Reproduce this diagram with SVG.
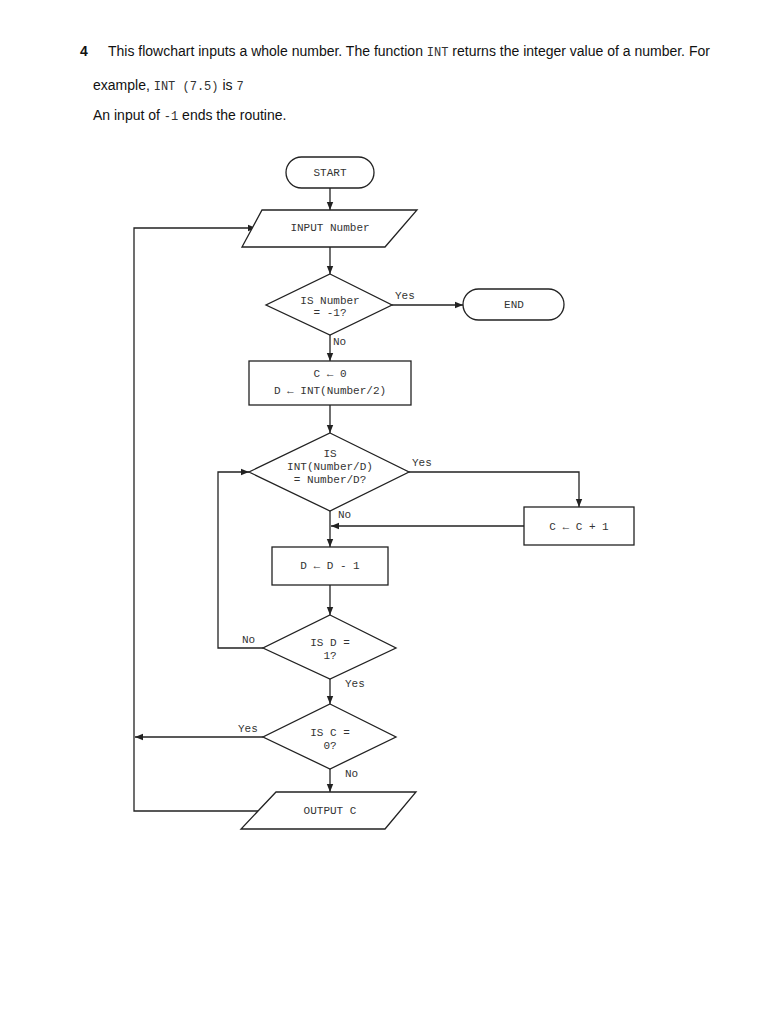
<svg xmlns="http://www.w3.org/2000/svg" width="768" height="1024" viewBox="0 0 768 1024">
<defs>
<marker id="a" viewBox="0 0 10 10" refX="10" refY="5" markerWidth="10" markerHeight="8" orient="auto" markerUnits="userSpaceOnUse"><path d="M0,1 L10,5 L0,9 z" fill="#222"/></marker>
<style>
.s{fill:#fff;stroke:#222;stroke-width:1.3}
.c{fill:none;stroke:#222;stroke-width:1.3;marker-end:url(#a)}
.l{fill:none;stroke:#222;stroke-width:1.3}
.m{font-family:"Liberation Mono",monospace;font-size:11px;fill:#333;text-anchor:middle}
.ml{font-family:"Liberation Mono",monospace;font-size:11px;fill:#333}
.h{font-family:"Liberation Sans",Arial,sans-serif;font-size:14px;fill:#111}
.hm{font-family:"Liberation Mono",monospace;font-size:12px;fill:#333}
</style>
</defs>
<rect width="768" height="1024" fill="#fff"/>
<text class="h" x="80" y="56" font-weight="bold">4</text>
<text class="h" x="108" y="56">This flowchart inputs a whole number. The function <tspan class="hm">INT</tspan> returns the integer value of a number. For</text>
<text class="h" x="93" y="90">example, <tspan class="hm">INT (7.5)</tspan> is <tspan class="hm">7</tspan></text>
<text class="h" x="93" y="120">An input of <tspan class="hm">-1</tspan> ends the routine.</text>
<g id="connectors">
<path class="c" d="M330,188 V210"/>
<path class="c" d="M330,247 V274"/>
<path class="c" d="M392,305 H463"/>
<path class="c" d="M330,335 V361"/>
<path class="c" d="M330,405 V433"/>
<path class="c" d="M409,472 H579 V507"/>
<path class="c" d="M524,526 H331"/>
<path class="c" d="M330,511 V547"/>
<path class="c" d="M330,585 V615"/>
<path class="c" d="M263,648 H218 V472 H249"/>
<path class="c" d="M330,679 V704"/>
<path class="c" d="M263,737 H135"/>
<path class="c" d="M330,769 V792"/>
<path class="c" d="M258,811 H134 V228 H256"/>
<text class="ml" x="395" y="299">Yes</text>
<text class="ml" x="333" y="345">No</text>
<text class="ml" x="412" y="466">Yes</text>
<text class="ml" x="338" y="518">No</text>
<text class="ml" x="242" y="643">No</text>
<text class="ml" x="345" y="687">Yes</text>
<text class="ml" x="238" y="732">Yes</text>
<text class="ml" x="345" y="777">No</text>
</g>
<g id="start"><rect class="s" x="286" y="157" width="88" height="31" rx="15.5"/><text class="m" x="330" y="176">START</text></g>
<g id="input"><polygon class="s" points="262,210 417,210 385,247 242,247"/><text class="m" x="330" y="231">INPUT Number</text></g>
<g id="d1"><polygon class="s" points="330,274 392,305 330,335 266,305"/><text class="m" x="330" y="304">IS Number</text><text class="m" x="330" y="316">= -1?</text></g>
<g id="end"><rect class="s" x="463" y="289" width="101" height="31" rx="15.5"/><text class="m" x="514" y="308">END</text></g>
<g id="init"><rect class="s" x="249" y="361" width="162" height="44"/><text class="m" x="330" y="377">C ← 0</text><text class="m" x="330" y="394">D ← INT(Number/2)</text></g>
<g id="d2"><polygon class="s" points="330,433 409,472 330,511 249,472"/><text class="m" x="330" y="457">IS</text><text class="m" x="330" y="470">INT(Number/D)</text><text class="m" x="330" y="483">= Number/D?</text></g>
<g id="inc"><rect class="s" x="524" y="507" width="110" height="38"/><text class="m" x="579" y="530">C ← C + 1</text></g>
<g id="dec"><rect class="s" x="272" y="547" width="116" height="38"/><text class="m" x="330" y="569">D ← D - 1</text></g>
<g id="d3"><polygon class="s" points="330,615 396,648 330,679 263,648"/><text class="m" x="330" y="646">IS D =</text><text class="m" x="330" y="659">1?</text></g>
<g id="d4"><polygon class="s" points="330,704 396,737 330,769 263,737"/><text class="m" x="330" y="736">IS C =</text><text class="m" x="330" y="749">0?</text></g>
<g id="output"><polygon class="s" points="276,792 416,792 385,829 241,829"/><text class="m" x="330" y="814">OUTPUT C</text></g>
</svg>
